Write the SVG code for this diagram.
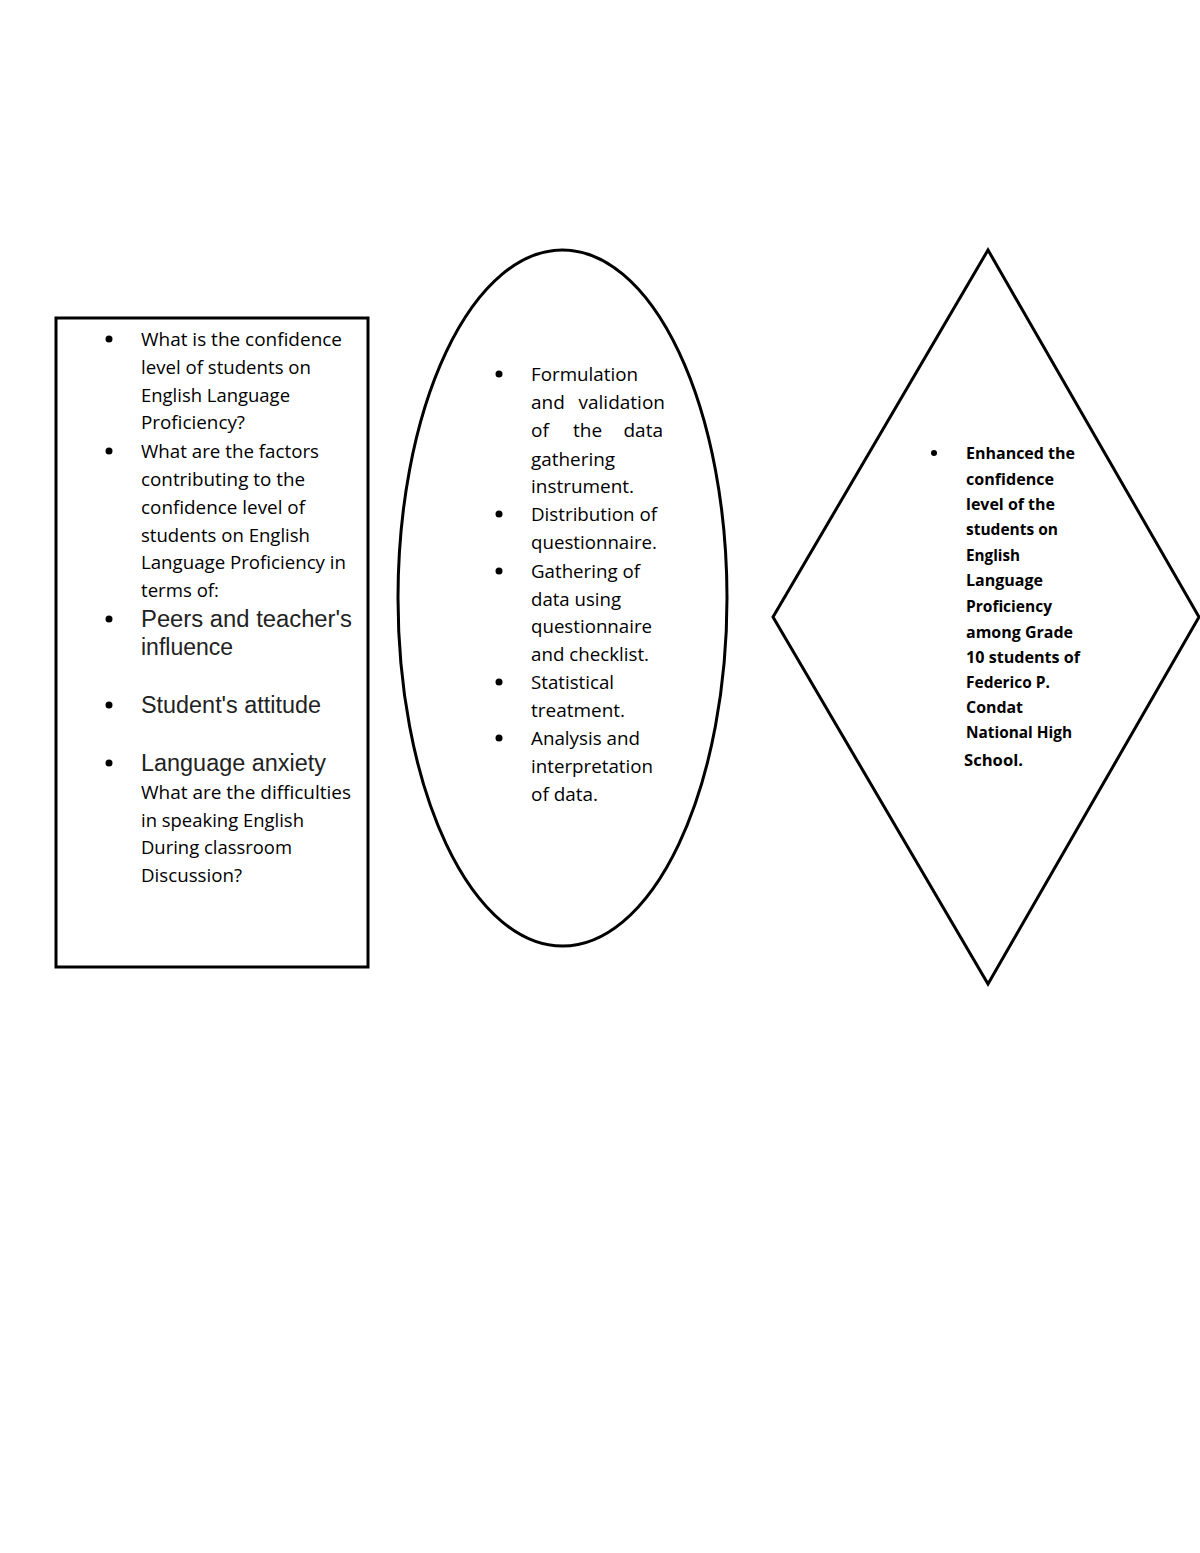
<svg xmlns="http://www.w3.org/2000/svg" width="1200" height="1553" viewBox="0 0 1200 1553">
<style>
.shape{fill:#fff;stroke:#000;stroke-width:3}
.c{font-family:"Open Sans","Liberation Sans",sans-serif;font-size:19px;fill:#000}
.a{font-family:"Liberation Sans",Arial,sans-serif;font-size:23px;fill:#222}
.b{font-family:"Open Sans","Liberation Sans",sans-serif;font-size:16px;font-weight:bold;fill:#000}
.dot{fill:#000}
</style>
<rect width="1200" height="1553" fill="#fff"/>
<g id="connectors"></g>
<g id="node-questions">
<rect class="shape" x="56" y="318" width="312" height="649"/>
<circle class="dot" cx="109" cy="339" r="3.5"/>
<circle class="dot" cx="109" cy="451" r="3.5"/>
<circle class="dot" cx="109" cy="619" r="3.5"/>
<circle class="dot" cx="109" cy="705" r="3.5"/>
<circle class="dot" cx="109" cy="763" r="3.5"/>
<text class="c" x="141" y="346" textLength="201" lengthAdjust="spacingAndGlyphs">What is the confidence</text>
<text class="c" x="141" y="374" textLength="170" lengthAdjust="spacingAndGlyphs">level of students on</text>
<text class="c" x="141" y="402" textLength="149" lengthAdjust="spacingAndGlyphs">English Language</text>
<text class="c" x="141" y="429" textLength="104" lengthAdjust="spacingAndGlyphs">Proficiency?</text>
<text class="c" x="141" y="458" textLength="178" lengthAdjust="spacingAndGlyphs">What are the factors</text>
<text class="c" x="141" y="486" textLength="164" lengthAdjust="spacingAndGlyphs">contributing to the</text>
<text class="c" x="141" y="514" textLength="164" lengthAdjust="spacingAndGlyphs">confidence level of</text>
<text class="c" x="141" y="542" textLength="169" lengthAdjust="spacingAndGlyphs">students on English</text>
<text class="c" x="141" y="569" textLength="205" lengthAdjust="spacingAndGlyphs">Language Proficiency in</text>
<text class="c" x="141" y="597" textLength="78" lengthAdjust="spacingAndGlyphs">terms of:</text>
<text class="a" x="141" y="627" textLength="211" lengthAdjust="spacingAndGlyphs">Peers and teacher's</text>
<text class="a" x="141" y="655">influence</text>
<text class="a" x="141" y="713" textLength="180" lengthAdjust="spacingAndGlyphs">Student's attitude</text>
<text class="a" x="141" y="771" textLength="185" lengthAdjust="spacingAndGlyphs">Language anxiety</text>
<text class="c" x="141" y="799" textLength="210" lengthAdjust="spacingAndGlyphs">What are the difficulties</text>
<text class="c" x="141" y="827" textLength="163" lengthAdjust="spacingAndGlyphs">in speaking English</text>
<text class="c" x="141" y="854" textLength="151" lengthAdjust="spacingAndGlyphs">During classroom</text>
<text class="c" x="141" y="882" textLength="101" lengthAdjust="spacingAndGlyphs">Discussion?</text>
</g>
<g id="node-process">
<ellipse class="shape" cx="562.5" cy="598" rx="164.5" ry="348"/>
<circle class="dot" cx="499" cy="374" r="3.5"/>
<circle class="dot" cx="499" cy="514" r="3.5"/>
<circle class="dot" cx="499" cy="571" r="3.5"/>
<circle class="dot" cx="499" cy="682" r="3.5"/>
<circle class="dot" cx="499" cy="738" r="3.5"/>
<text class="c" x="531" y="381" textLength="107" lengthAdjust="spacingAndGlyphs">Formulation</text>
<text class="c" x="531" y="409">and</text>
<text class="c" x="665" y="409" text-anchor="end">validation</text>
<text class="c" x="531" y="437">of</text>
<text class="c" x="573" y="437">the</text>
<text class="c" x="663" y="437" text-anchor="end">data</text>
<text class="c" x="531" y="466" textLength="84" lengthAdjust="spacingAndGlyphs">gathering</text>
<text class="c" x="531" y="493" textLength="103" lengthAdjust="spacingAndGlyphs">instrument.</text>
<text class="c" x="531" y="521" textLength="126" lengthAdjust="spacingAndGlyphs">Distribution of</text>
<text class="c" x="531" y="549" textLength="126" lengthAdjust="spacingAndGlyphs">questionnaire.</text>
<text class="c" x="531" y="578" textLength="109" lengthAdjust="spacingAndGlyphs">Gathering of</text>
<text class="c" x="531" y="606" textLength="90" lengthAdjust="spacingAndGlyphs">data using</text>
<text class="c" x="531" y="633" textLength="121" lengthAdjust="spacingAndGlyphs">questionnaire</text>
<text class="c" x="531" y="661" textLength="118" lengthAdjust="spacingAndGlyphs">and checklist.</text>
<text class="c" x="531" y="689" textLength="83" lengthAdjust="spacingAndGlyphs">Statistical</text>
<text class="c" x="531" y="717" textLength="94" lengthAdjust="spacingAndGlyphs">treatment.</text>
<text class="c" x="531" y="745" textLength="109" lengthAdjust="spacingAndGlyphs">Analysis and</text>
<text class="c" x="531" y="773" textLength="122" lengthAdjust="spacingAndGlyphs">interpretation</text>
<text class="c" x="531" y="801" textLength="67" lengthAdjust="spacingAndGlyphs">of data.</text>
</g>
<g id="node-outcome">
<polygon class="shape" points="988,250 1199,617 988,984 773,617"/>
<circle class="dot" cx="934" cy="453" r="3"/>
<text class="b" x="966" y="459" textLength="109" lengthAdjust="spacingAndGlyphs">Enhanced the</text>
<text class="b" x="966" y="485" textLength="88" lengthAdjust="spacingAndGlyphs">confidence</text>
<text class="b" x="966" y="510" textLength="89" lengthAdjust="spacingAndGlyphs">level of the</text>
<text class="b" x="966" y="535" textLength="92" lengthAdjust="spacingAndGlyphs">students on</text>
<text class="b" x="966" y="561" textLength="54" lengthAdjust="spacingAndGlyphs">English</text>
<text class="b" x="966" y="586" textLength="77" lengthAdjust="spacingAndGlyphs">Language</text>
<text class="b" x="966" y="612" textLength="86" lengthAdjust="spacingAndGlyphs">Proficiency</text>
<text class="b" x="966" y="638" textLength="107" lengthAdjust="spacingAndGlyphs">among Grade</text>
<text class="b" x="966" y="663" textLength="114" lengthAdjust="spacingAndGlyphs">10 students of</text>
<text class="b" x="966" y="688" textLength="84" lengthAdjust="spacingAndGlyphs">Federico P.</text>
<text class="b" x="966" y="713" textLength="57" lengthAdjust="spacingAndGlyphs">Condat</text>
<text class="b" x="966" y="738" textLength="106" lengthAdjust="spacingAndGlyphs">National High</text>
<text class="b" x="964" y="766" textLength="59" lengthAdjust="spacingAndGlyphs">School.</text>
</g>
</svg>
